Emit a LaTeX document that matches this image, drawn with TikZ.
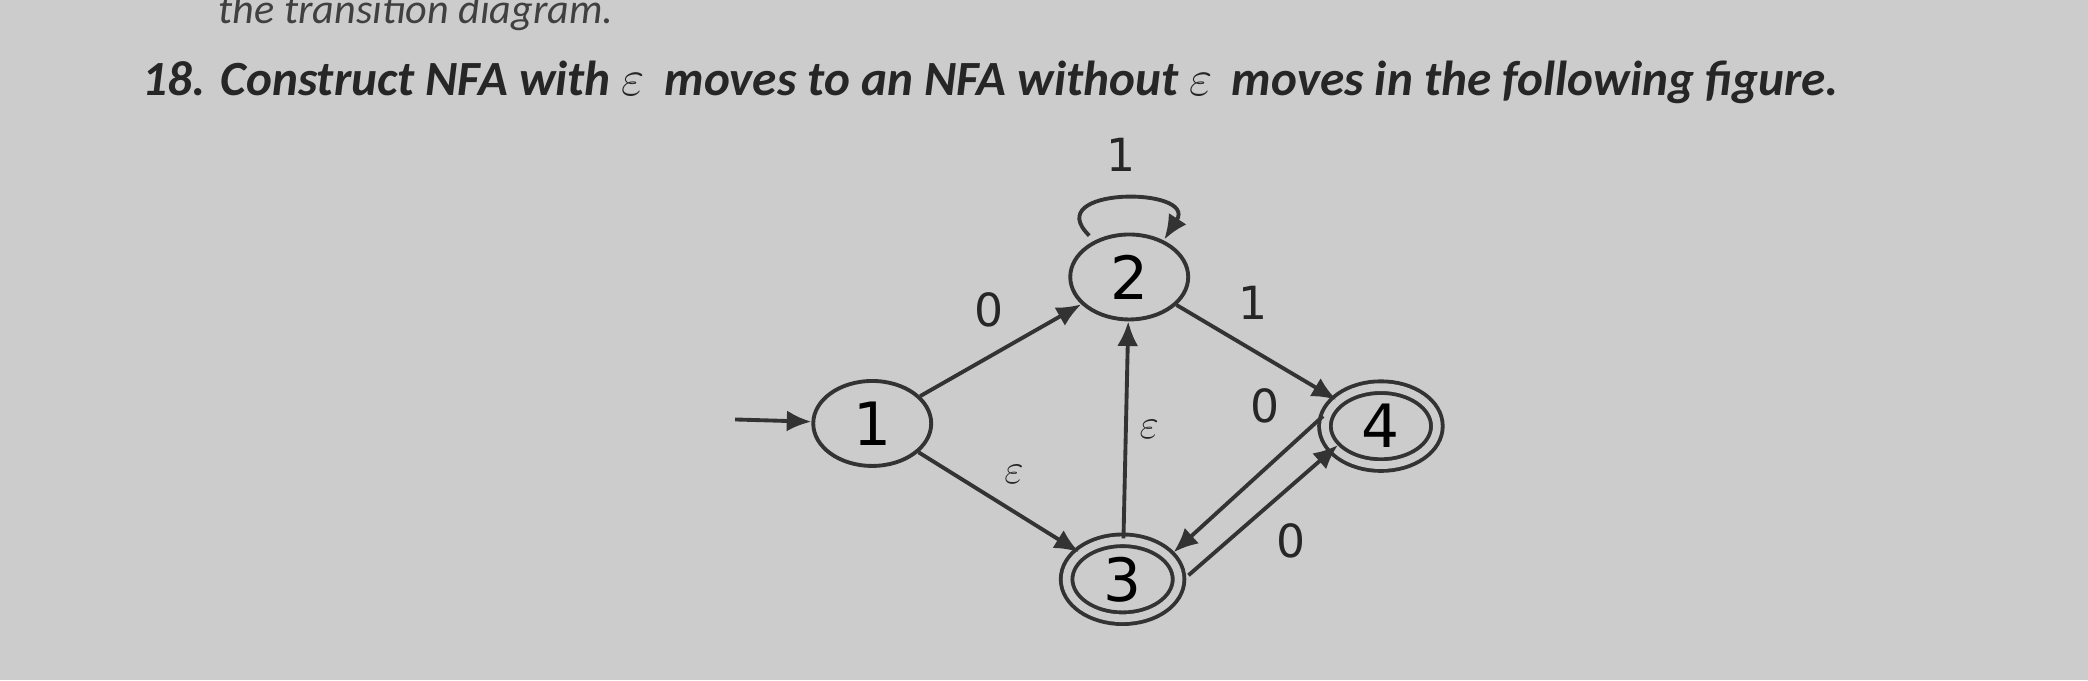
\documentclass[tikz,border=0pt]{standalone}
\usepackage{fontspec}
\setmainfont{Carlito}
\newfontfamily\djfont{DejaVu Sans}
\usetikzlibrary{shapes.geometric,arrows.meta}
\begin{document}
\begin{tikzpicture}[x=0.013316cm,y=-0.013316cm,
  st/.style={draw=black!80,line width=1.1pt,ellipse,minimum width=1.18cm,minimum height=0.85cm,inner sep=0pt,font=\fontsize{17}{17}\selectfont\djfont},
  acc/.style={st,double=black!20,double distance=2.2pt,minimum width=1.12cm,minimum height=0.78cm},
  ed/.style={draw=black!80,line width=1.1pt,-{Latex[length=7pt,width=6pt]}},
  lb/.style={font=\fontsize{13}{13}\selectfont\djfont,text=black!85}]
\fill[black!20] (0,0) rectangle (1568,511);
\useasboundingbox (0,0) rectangle (1568,511);
\node[anchor=base west,font=\fontsize{12}{12}\selectfont\itshape,text=black!75] (t0) at (155,18) {the transition diagram.};
\node[anchor=base west,font=\fontsize{14}{14}\selectfont\bfseries\itshape,text=black!85] (t1) at (98,72) {18. Construct NFA with \(\varepsilon\) \,moves to an NFA without \(\varepsilon\) \,moves in the following figure.};
\node[st] (n1) at (655,318) {1};
\node[st] (n2) at (848,208) {2};
\node[acc] (n3) at (843,435) {3};
\node[acc] (n4) at (1037,320) {4};
\coordinate (s) at (552,315);
\draw[ed] (s) -- (n1);
\draw[ed] (n1) -- node[lb,above left,pos=0.6]{0} (n2);
\draw[ed] (n1) -- node[lb,above right,pos=0.45]{\(\varepsilon\)} (n3);
\draw[ed] (n2) -- node[lb,above right,pos=0.3]{1} (n4);
\draw[ed] (n3) -- node[lb,right,pos=0.5]{\(\varepsilon\)} (n2);
\draw[ed] ([yshift=0.1cm]n4.west) -- node[lb,above left,pos=0.15,xshift=-2pt]{0} ([xshift=0.1cm,yshift=-0.02cm]n3.north east);
\draw[ed] ([xshift=0.08cm,yshift=0.04cm]n3.east) -- node[lb,below right,pos=0.5]{0} ([xshift=-0.02cm,yshift=0.1cm]n4.south west);
\draw[ed] ([xshift=-0.4cm,yshift=-0.03cm]n2.north) .. controls (780,140) and (900,140) .. ([xshift=0.35cm,yshift=-0.07cm]n2.north) node[lb,pos=0.5,above=4pt]{1};
\end{tikzpicture}
\end{document}
